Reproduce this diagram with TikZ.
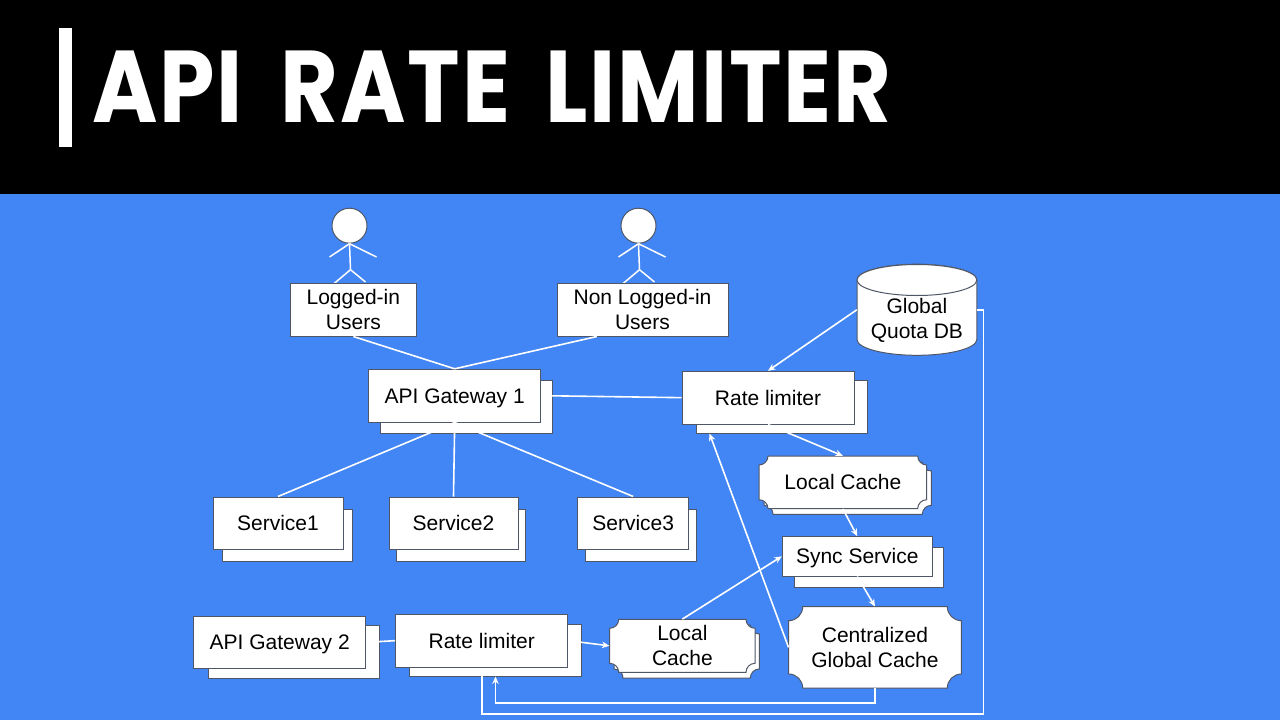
\documentclass[tikz,border=0pt]{standalone}
\usepackage{fontspec}
\setmainfont{Liberation Sans}
\newfontfamily\titlefont[LetterSpace=2,BoldFont=* Bold]{Poppins}
\usetikzlibrary{arrows.meta,calc}
\definecolor{bluebg}{HTML}{4285F4}
\definecolor{edgegray}{HTML}{4F5766}
\tikzset{
  plain/.style={inner sep=0pt,align=center,text=black,text height=15pt,text depth=0pt,
    font=\fontsize{21}{25}\selectfont},
  boxst/.style={plain,draw=edgegray,fill=white,line width=1pt},
  twolines/.style={text height=40pt},
  conn/.style={draw=white,line width=1.6pt},
  arr/.style={conn,-{Stealth[length=7.5pt,width=6.5pt]}},
  limb/.style={draw=white,line width=1.5pt},
  plaquest/.style={draw=edgegray,fill=white,line width=1pt}
}
\newcommand{\rectnode}[7][]{%
  \node[boxst,#1,minimum width={#5pt-#3pt},minimum height={#6pt-#4pt}] (#2) at ({(#3+#5)/2},{(#4+#6)/2}) {#7};}
\newcommand{\plaquepath}[5]{%
  \path[plaquest] ({#1+#5},#2) -- ({#3-#5},#2)
    .. controls ({#3-#5},{#2+.55*#5}) and ({#3-.55*#5},{#2+#5}) .. (#3,{#2+#5})
    -- (#3,{#4-#5})
    .. controls ({#3-.55*#5},{#4-#5}) and ({#3-#5},{#4-.55*#5}) .. ({#3-#5},#4)
    -- ({#1+#5},#4)
    .. controls ({#1+#5},{#4-.55*#5}) and ({#1+.55*#5},{#4-#5}) .. (#1,{#4-#5})
    -- (#1,{#2+#5})
    .. controls ({#1+.55*#5},{#2+#5}) and ({#1+#5},{#2+.55*#5}) .. ({#1+#5},#2) -- cycle;}
\newcommand{\plaquenode}[8][]{%
  \plaquepath{#3}{#4}{#5}{#6}{#7}
  \node[plain,#1,minimum width={#5pt-#3pt},minimum height={#6pt-#4pt}] (#2) at ({(#3+#5)/2},{(#4+#6)/2}) {#8};}
\newcommand{\person}[2]{%
  \node[circle,draw=edgegray,fill=white,line width=1pt,minimum size=35pt,inner sep=0pt] (#1) at (#2,225.7) {};
  \coordinate (#1hip) at ({#2+1},269.7);
  \coordinate (#1la) at ({#2-20},257);
  \coordinate (#1ra) at ({#2+27},257);
  \coordinate (#1ll) at ({#2-16},284);
  \coordinate (#1rl) at ({#2+16},282);
  \draw[limb] (#1.south) -- (#1hip);
  \draw[limb] (#1.south) -- (#1la);
  \draw[limb] (#1.south) -- (#1ra);
  \draw[limb] (#1hip) -- (#1ll);
  \draw[limb] (#1hip) -- (#1rl);}
\begin{document}
\begin{tikzpicture}[x=1pt,y=-1pt]
\useasboundingbox (0,0) rectangle (1280,720);
\fill[black] (0,0) rectangle (1280,194);
\fill[bluebg] (0,194) rectangle (1280,720);
\fill[white] (59,28) rectangle (72.3,146.5);
\node[anchor=base west,inner sep=0pt,text=white,font=\titlefont\bfseries\fontsize{102}{102}\selectfont] (title) at (92,122) {\scalebox{0.871}[1]{API\hspace{20pt} RATE\hspace{17pt} LIMITER}};
% people
\person{p1}{349.5}
\person{p2}{638.5}
\rectnode[twolines]{logged}{290.7}{283.7}{416}{336}{Logged-in\\Users}
\rectnode[twolines]{nonlogged}{557}{283.7}{728}{336}{Non Logged-in\\Users}
% gateway 1
\rectnode{gw1b}{380}{380}{552}{433}{}
\rectnode{gw1}{368.7}{369.3}{540.7}{422}{API Gateway 1}
% rate limiter 1
\rectnode{rl1b}{696}{380.7}{867.7}{433}{}
\rectnode{rl1}{682}{371.3}{854}{424}{Rate limiter}
% db
\path[plaquest] (857,280) -- (857,339.5) arc[start angle=180,end angle=0,x radius=59.9,y radius=15.8]
  -- (976.8,280) arc[start angle=0,end angle=-180,x radius=59.9,y radius=15.8] -- cycle;
\path[plaquest] (916.9,280) ellipse[x radius=59.9,y radius=15.5];
\node[minimum width=119.8pt,minimum height=91pt,inner sep=0pt] (db) at (916.9,309.8) {};
\node[plain,twolines] (dbtext) at (916.9,318.5) {Global\\Quota DB};
% local cache 1
\plaquenode{lc1b}{764}{462}{931.3}{514.3}{9}{}
\plaquenode{lc1}{759}{456}{926.7}{508.7}{9}{Local Cache}
% services
\rectnode{s1b}{222}{509}{352}{561}{}
\rectnode{s1}{213}{497}{343}{549}{Service1}
\rectnode{s2b}{396}{509}{525}{561}{}
\rectnode{s2}{389}{497}{518}{549}{Service2}
\rectnode{s3b}{585.7}{509}{696}{561}{}
\rectnode{s3}{577.7}{497}{688.7}{549}{Service3}
% sync
\rectnode{syncb}{794}{547.3}{943.7}{587.3}{}
\rectnode{sync}{782.3}{536.7}{932.3}{576}{Sync Service}
% centralized
\plaquenode[twolines]{cg}{788.7}{606.7}{961.3}{688}{14}{Centralized\\Global Cache}
% gateway 2
\rectnode{gw2b}{208}{625.3}{379.3}{678.3}{}
\rectnode{gw2}{193.7}{616}{365.7}{668.7}{API Gateway 2}
% rate limiter 2
\rectnode{rl2b}{409.7}{624}{581.3}{676}{}
\rectnode{rl2}{395.7}{614.3}{567.7}{667}{Rate limiter}
% local cache 2
\plaquenode{lc2b}{614}{625}{759.3}{678}{9}{}
\plaquenode[twolines]{lc2}{609.7}{619.3}{755}{672.3}{9}{Local\\Cache}
% connectors
\draw[conn] (logged.south) -- (gw1.north);
\draw[conn] ($(nonlogged.south west)!0.235!(nonlogged.south east)$) -- (gw1.north);
\draw[conn] (gw1.south) -- (s1.north);
\draw[conn] (gw1.south) -- (s2.north);
\draw[conn] (gw1.south) -- (s3.north);
\draw[conn] (gw1.east) -- (rl1.west);
\draw[arr] (db.west) -- (rl1.north);
\draw[arr] (rl1.south) -- (lc1.north);
\draw[arr] (lc1.south) -- (sync.north);
\draw[arr] (sync.south) -- (cg.north);
\coordinate (rl1in) at ($(rl1b.south west)+(14,0)$);
\draw[arr] (cg.west) -- (rl1in);
\draw[conn] (gw2.east) -- (rl2.west);
\draw[arr] (rl2.east) -- (lc2.west);
\draw[arr] (lc2.north) -- (sync.west);
\coordinate (busa) at (875,703);
\draw[arr] (cg.south) -- (busa) -| (rl2b.south);
\coordinate (busb) at (983.3,714);
\draw[conn] (db.east) -| (busb) -| (rl2.south);
\end{tikzpicture}
\end{document}
